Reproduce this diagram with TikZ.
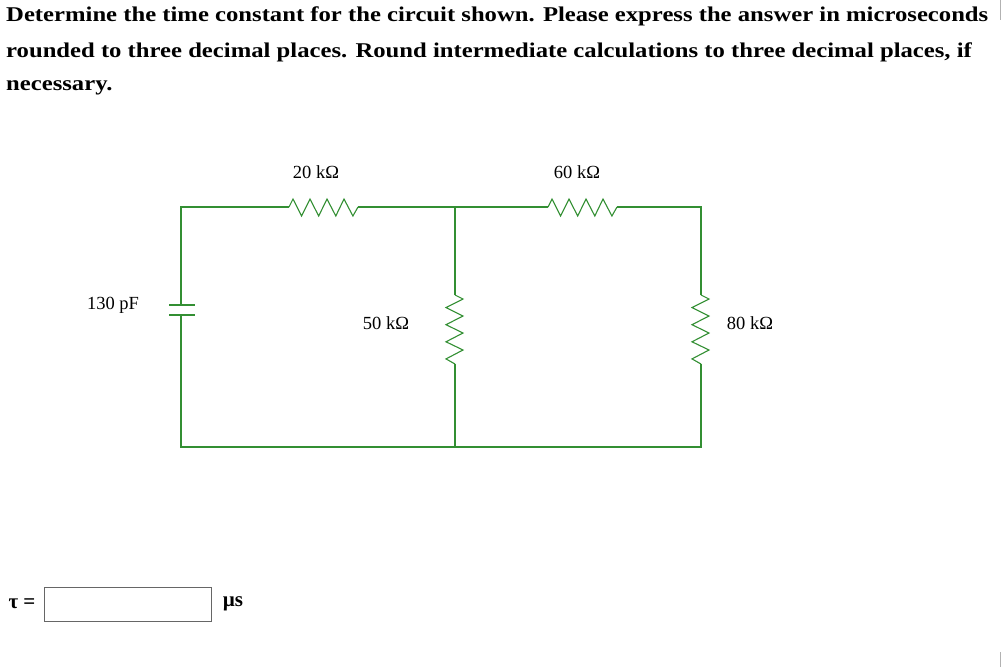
\documentclass[tikz,border=0pt]{standalone}
\usepackage{fontspec}
\setmainfont{Liberation Serif}
\newfontfamily\ttlfont[FakeStretch=1.175]{Liberation Serif}
\begin{document}
\begin{tikzpicture}[x=1pt,y=-1pt,
  wire/.style={draw=green!45!black!80, line width=1.1pt},
  lbl/.style={font=\fontsize{18.5}{20}\selectfont, inner sep=0pt},
  ttl/.style={font=\ttlfont\bfseries\fontsize{21}{24}\selectfont, anchor=west, inner sep=0pt},
  pics/hres/.style={code={\draw[wire] (0,0) -- (4,-8) -- (12.6,9) -- (21,-8) -- (29.7,9) -- (38,-8) -- (46.8,9) -- (55,-8) -- (63.9,9) -- (69,0);}},
  pics/vres/.style={code={\draw[wire] (0,0) -- (8,4) -- (-9,12.6) -- (8,21) -- (-9,29.7) -- (8,38) -- (-9,46.8) -- (8,55) -- (-9,63.9) -- (0,69);}}]
\useasboundingbox (0,0) rectangle (1006,667);
\draw[gray!60, line width=0.8pt] (1000,0) -- (1000,20);
\draw[gray!60, line width=0.8pt] (1000,652) -- (1000,667);
\node[ttl] (t1) at (6,16) {Determine the time constant for the circuit shown. Please express the answer in microseconds};
\node[ttl] (t2) at (6,52) {rounded to three decimal places. Round intermediate calculations to three decimal places, if};
\node[ttl] (t3) at (6,88) {necessary.};
% coordinates
\coordinate (tl) at (181,207); \coordinate (tm) at (455,207); \coordinate (tr) at (701,207);
\coordinate (bl) at (181,447); \coordinate (bm) at (455,447); \coordinate (br) at (701,447);
\coordinate (r1a) at (289,207); \coordinate (r1b) at (358,207);
\coordinate (r2a) at (548,207); \coordinate (r2b) at (617,207);
\coordinate (r3a) at (455,295); \coordinate (r3b) at (455,364);
\coordinate (r4a) at (701,295); \coordinate (r4b) at (701,364);
\coordinate (c1) at (181,305); \coordinate (c2) at (181,315);
\pic at (r1a) {hres}; \pic at (r2a) {hres};
\pic at (r3a) {vres}; \pic at (r4a) {vres};
\draw[wire] (c1) -- (tl) -- (r1a);
\draw[wire] (r1b) -- (tm) -- (r2a);
\draw[wire] (r2b) -- (tr) -- (r4a);
\draw[wire] (tm) -- (r3a);
\draw[wire] (r3b) -- (bm);
\draw[wire] (r4b) -- (br) -- (bl) -- (c2);
\draw[wire] (169,305) -- (195,305);
\draw[wire] (169,315) -- (195,315);
\node[lbl] (l1) at (316,172) {20 kΩ};
\node[lbl] (l2) at (577,172) {60 kΩ};
\node[lbl] (l3) at (113,305) {130 pF};
\node[lbl] (l4) at (386,323) {50 kΩ};
\node[lbl] (l5) at (750,323) {80 kΩ};
\node[draw=gray!80!black, line width=0.8pt, minimum width=167pt, minimum height=34pt, inner sep=0pt] (box) at (127.5,604) {};
\node[font=\bfseries\fontsize{21}{22}\selectfont, inner sep=0pt] (tau) at (22,604) {τ =};
\node[font=\bfseries\fontsize{21}{22}\selectfont, inner sep=0pt] (us) at (233,604) {µs};
\end{tikzpicture}
\end{document}
